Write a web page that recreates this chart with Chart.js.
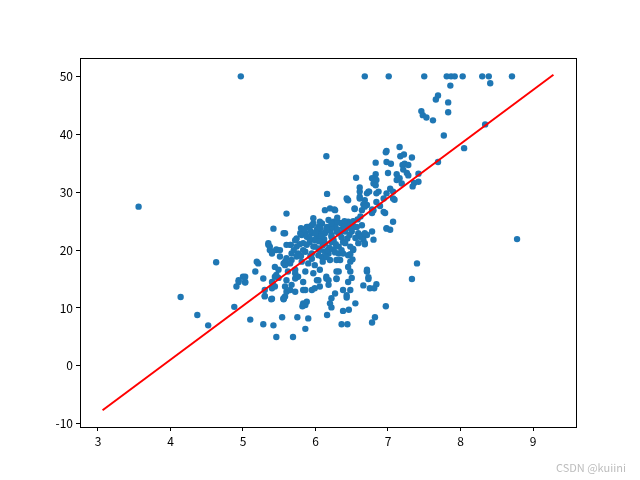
<!DOCTYPE html>
<html>
<head>
<meta charset="utf-8">
<script src="https://cdn.jsdelivr.net/npm/chart.js@4.4.1/dist/chart.umd.min.js"></script>
<style>
  html, body { margin: 0; padding: 0; background: #fff; }
  #wrap { position: relative; width: 640px; height: 480px; }
  #mark { position: absolute; right: 14px; bottom: 5px; font: 11px 'Noto Sans CJK SC', sans-serif; color: #bdbdbd; }
</style>
</head>
<body>
<div id="wrap">
  <canvas id="chart" width="640" height="480"></canvas>
  <div id="mark">CSDN @kuiini</div>
</div>
<script>
// rooms per dwelling (x) vs median value (y)
const rooms = [
  3.56, 4.97, 4.14, 4.37, 4.52, 4.63, 4.88, 6.68, 7.01, 7.50,
  7.81, 7.87, 7.92, 8.03, 8.30, 8.39, 8.71, 7.86, 8.41,
  7.69, 7.66, 7.83, 7.83, 7.46, 7.48, 7.53, 7.62, 7.77, 8.34,
  8.05, 7.69, 8.78, 7.16, 6.98, 6.97, 7.17, 7.22, 7.33, 6.83,
  6.98, 7.04, 7.23, 7.20, 7.28, 7.21, 7.26, 7.00, 6.83, 7.12,
  7.42, 6.56, 6.78, 6.84, 7.16, 7.28, 6.80, 6.83, 7.12, 7.36,
  7.42, 7.19, 6.61, 6.61, 6.74, 6.87, 7.03, 6.98, 7.07, 6.44,
  6.61, 6.68, 6.84, 6.94, 7.09, 6.66, 6.71, 6.89, 6.54, 6.78,
  7.34, 6.15, 6.16, 6.26, 6.96, 7.07, 6.98, 7.03, 6.78, 6.80,
  6.66, 6.66, 6.78, 6.48, 6.34, 6.45, 6.25, 6.29, 6.22, 6.73,
  6.27, 6.45, 6.64, 6.78, 6.52, 6.45, 6.32, 6.18, 6.09, 6.20,
  6.34, 6.48, 6.45, 6.48, 6.71, 6.32, 6.06, 6.15, 6.29, 6.73,
  6.09, 6.18, 6.27, 6.36, 6.45, 6.54, 6.64, 6.04, 6.13, 6.22,
  6.32, 6.41, 6.50, 6.59, 6.13, 6.22, 6.32, 6.41, 6.00, 6.04,
  6.13, 6.61, 6.68, 6.71, 5.60, 5.42, 5.58, 5.35, 5.37, 5.46,
  5.65, 5.21, 5.17, 5.00, 4.94, 5.74, 5.81, 5.90, 5.97, 6.04,
  5.86, 5.95, 6.02, 5.74, 5.83, 5.92, 5.99, 5.67, 5.76, 5.86,
  5.95, 6.04, 5.58, 5.67, 5.81, 5.90, 5.99, 5.49, 5.62, 5.72,
  5.86, 5.97, 5.44, 5.76, 4.94, 4.91, 5.03, 5.10, 5.28, 5.42,
  5.46, 5.69, 5.54, 5.75, 5.90, 5.86, 5.30, 5.30, 5.40, 5.56,
  5.58, 5.60, 5.65, 5.72, 5.67, 5.60, 5.72, 5.83, 5.86, 5.95,
  5.99, 5.86, 5.82, 5.40, 5.49, 5.44, 5.28, 6.04, 6.15, 6.29,
  6.45, 6.50, 6.73, 6.84, 6.66, 6.75, 6.81, 6.06, 6.18, 6.27,
  6.38, 6.48, 6.43, 6.43, 6.22, 6.20, 6.22, 6.55, 6.38, 6.46,
  6.97, 6.16, 6.36, 6.44, 6.82, 6.78, 7.33, 7.40, 6.71, 6.68,
  6.52, 6.48, 6.51, 5.03, 5.03, 5.30, 5.40, 5.39, 5.46, 5.41,
  5.40, 5.46, 5.56, 5.60, 5.58, 5.56, 5.72, 5.83, 5.88, 5.66,
  6.43, 6.61, 6.71, 6.84, 7.07, 6.54, 6.68, 6.80, 6.94, 6.98,
  5.56, 5.72, 5.88, 5.95, 6.06, 6.29, 6.43, 6.57, 6.68, 6.59,
  6.48, 6.38, 6.29, 6.15, 6.06, 5.97, 5.83, 5.74, 5.65, 5.58,
  5.44, 5.37, 5.40, 5.35, 5.19, 5.56, 5.83, 6.02, 6.18, 6.29,
  6.71, 6.13, 6.20, 5.97, 5.88, 5.79, 6.11, 6.20, 6.34, 6.25,
  6.38, 6.02, 5.88, 5.60, 5.51, 5.51, 5.93, 6.07, 6.16, 6.24,
  6.38, 6.47, 6.55, 6.12, 6.25, 6.10, 5.99, 6.30, 6.40, 6.52,
  6.02, 6.19, 6.36, 5.80, 5.93, 6.27, 5.78, 5.85, 5.92, 6.00,
  6.08, 6.15, 6.22, 6.30, 6.36, 6.44, 5.70, 5.80, 6.05, 6.17,
  6.28, 6.40, 6.58, 6.62, 5.95, 6.10
];
const prices = [
  27.5, 50.0, 11.9, 8.8, 7.0, 17.9, 10.2, 50.0, 50.0, 50.0,
  50.0, 50.0, 50.0, 50.0, 50.0, 50.0, 50.0, 48.4, 48.8,
  46.7, 46.0, 45.5, 43.8, 44.0, 43.3, 42.9, 42.4, 39.8, 41.7,
  37.6, 35.2, 21.9, 37.8, 37.1, 36.9, 36.2, 36.5, 36.0, 35.1,
  35.2, 34.9, 34.9, 34.7, 34.7, 33.9, 33.3, 33.3, 33.1, 33.1,
  33.2, 32.5, 32.4, 32.1, 32.4, 32.9, 31.5, 31.2, 32.1, 31.6,
  31.8, 31.5, 30.8, 30.1, 30.1, 30.1, 30.6, 29.8, 30.1, 28.7,
  28.9, 28.6, 28.3, 28.9, 28.7, 27.9, 27.8, 27.6, 27.1, 27.0,
  31.0, 36.2, 29.7, 27.0, 26.4, 24.9, 23.8, 23.5, 26.4, 21.8,
  22.6, 21.8, 23.2, 23.8, 24.7, 24.9, 24.9, 23.2, 22.6, 30.1,
  26.9, 28.6, 26.9, 26.6, 20.0, 19.1, 19.4, 19.4, 18.8, 18.3,
  18.3, 18.0, 17.1, 16.3, 16.3, 16.3, 16.6, 15.4, 15.1, 15.3,
  24.6, 25.2, 24.3, 24.6, 24.3, 24.0, 24.3, 22.9, 22.9, 22.3,
  22.9, 23.2, 23.2, 22.9, 21.2, 21.4, 20.6, 21.2, 21.7, 20.3,
  19.7, 22.3, 21.2, 22.6, 26.3, 23.7, 22.9, 20.9, 20.0, 20.0,
  20.9, 17.7, 16.3, 15.4, 14.8, 22.0, 22.6, 24.0, 24.6, 24.0,
  22.9, 22.9, 22.3, 20.6, 21.2, 21.4, 20.6, 19.4, 19.4, 19.7,
  19.4, 19.1, 18.0, 18.3, 18.0, 17.7, 17.4, 16.6, 16.3, 16.6,
  16.3, 16.0, 15.4, 15.4, 14.5, 13.7, 14.5, 8.0, 7.2, 7.0,
  5.0, 5.0, 8.4, 8.4, 8.2, 6.4, 13.1, 12.0, 11.6, 11.6,
  12.0, 12.8, 13.1, 12.8, 14.0, 14.8, 15.1, 14.5, 13.1, 13.1,
  13.4, 10.5, 10.3, 14.5, 15.2, 13.7, 15.1, 14.8, 15.1, 15.0,
  14.5, 15.2, 15.0, 14.1, 13.9, 13.4, 13.4, 13.7, 14.0, 12.5,
  13.1, 13.1, 12.2, 11.8, 11.7, 10.8, 10.1, 10.8, 9.5, 9.7,
  10.3, 8.8, 7.2, 7.2, 8.4, 7.5, 15.0, 17.7, 16.4, 21.0,
  20.2, 19.3, 18.4, 15.4, 14.4, 12.1, 13.4, 11.5, 15.7, 14.3,
  19.4, 20.1, 17.7, 18.6, 13.7, 11.5, 16.0, 10.8, 11.1, 20.9,
  28.9, 29.2, 29.8, 29.8, 28.9, 27.2, 27.5, 26.9, 26.6, 23.7,
  22.9, 21.7, 22.3, 24.3, 24.9, 24.9, 24.6, 24.0, 22.9, 21.2,
  20.6, 19.4, 18.3, 18.8, 20.0, 20.6, 20.0, 18.9, 17.7, 17.4,
  17.1, 20.6, 19.7, 21.2, 18.0, 11.7, 13.1, 14.8, 14.8, 16.3,
  16.6, 26.9, 27.2, 25.5, 24.0, 22.9, 22.9, 23.4, 22.9, 21.7,
  21.4, 22.3, 20.9, 20.9, 20.0, 18.9, 23.3, 23.8, 24.0, 23.9,
  23.8, 22.6, 22.1, 21.9, 20.1, 20.8, 21.8, 25.6, 25.0, 25.0,
  23.6, 20.4, 20.0, 23.8, 19.0, 19.6, 21.0, 23.6, 22.0, 23.0,
  22.3, 23.5, 24.6, 23.6, 22.2, 22.0, 20.0, 19.0, 21.5, 20.0,
  21.0, 24.0, 25.3, 25.8, 18.5, 18.0
];

// fitted line end points
const fitX = [3.063, 9.282];
const fitY = [-7.65, 50.27];

const xTicks = [3, 4, 5, 6, 7, 8, 9];
const yTicks = [-10, 0, 10, 20, 30, 40, 50];

const points = rooms.map((r, i) => ({ x: r, y: prices[i] }));
const fitLine = fitX.map((x, i) => ({ x: x, y: fitY[i] }));

const tickFont = { family: "'Noto Sans CJK SC', 'DejaVu Sans', sans-serif", size: 12 };

function axisStyle(ticks, fit) {
    return {
        type: 'linear',
        afterBuildTicks: a => { a.ticks = ticks.map(v => ({ value: v })); },
        afterFit: fit,
        grid: { display: true, drawOnChartArea: false, drawTicks: true, tickLength: 4, color: '#000' },
        border: { display: true, color: '#000', width: 1 },
        ticks: { color: '#000', font: tickFont, padding: 3 }
    };
}

// matplotlib draws all four spines
const boxPlugin = {
    id: 'box',
    afterDraw(chart) {
        const a = chart.chartArea, c = chart.ctx;
        c.save();
        c.strokeStyle = '#000';
        c.lineWidth = 1;
        c.strokeRect(Math.round(a.left) + 0.5, Math.round(a.top) + 0.5, Math.round(a.right - a.left), Math.round(a.bottom - a.top));
        c.restore();
    }
};

new Chart(document.getElementById('chart'), {
    type: 'scatter',
    data: {
        datasets: [{
            type: 'line',
            data: fitLine,
            borderColor: '#ff0000',
            borderWidth: 2,
            pointRadius: 0,
            fill: false,
            order: 0
        }, {
            data: points,
            backgroundColor: '#1f77b4',
            borderColor: '#1f77b4',
            borderWidth: 0,
            pointRadius: 3.2,
            order: 1
        }]
    },
    options: {
        responsive: false,
        animation: false,
        layout: { padding: { top: 58, right: 64, bottom: 0, left: 0 } },
        plugins: { legend: { display: false }, tooltip: { enabled: false } },
        scales: {
            x: Object.assign(axisStyle(xTicks, s => { s.height = 53; }), { min: 2.752, max: 9.593 }),
            y: Object.assign(axisStyle(yTicks, s => { s.width = 80; }), { min: -10.55, max: 53.17 })
        }
    },
    plugins: [boxPlugin]
});
</script>
</body>
</html>
